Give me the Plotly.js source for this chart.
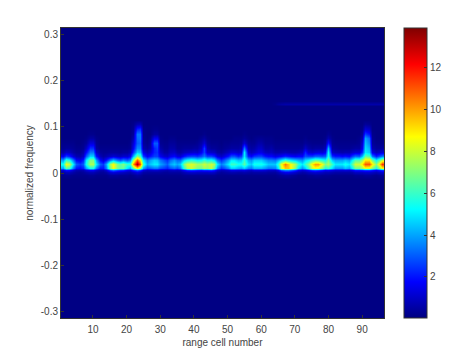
<!DOCTYPE html>
<html><head><meta charset="utf-8">
<script src="https://cdn.plot.ly/plotly-3.0.1.min.js"></script>
<style>html,body{margin:0;padding:0;background:#fff}#c{width:474px;height:355px}</style></head>
<body><div id="c"></div>
<script>
const rangeCells=[1,2,3,4,5,6,7,8,9,10,11,12,13,14,15,16,17,18,19,20,21,22,23,24,25,26,27,28,29,30,31,32,33,34,35,36,37,38,39,40,41,42,43,44,45,46,47,48,49,50,51,52,53,54,55,56,57,58,59,60,61,62,63,64,65,66,67,68,69,70,71,72,73,74,75,76,77,78,79,80,81,82,83,84,85,86,87,88,89,90,91,92,93,94,95,96];
const frequencies=[-0.313,-0.012,-0.004,0.002,0.0075,0.0115,0.02,0.029,0.037,0.046,0.055,0.065,0.075,0.085,0.095,0.105,0.115,0.145,0.15,0.155,0.313];
const rowBottom=[.1,.1,.1,.1,.1,.1,.1,.1,.1,.1,.1,.1,.1,.1,.1,.1,.1,.1,.1,.1,.1,.1,.1,.1,.1,.1,.1,.1,.1,.1,.1,.1,.1,.1,.1,.1,.1,.1,.1,.1,.1,.1,.1,.1,.1,.1,.1,.1,.1,.1,.1,.1,.1,.1,.1,.1,.1,.1,.1,.1,.1,.1,.1,.1,.1,.1,.1,.1,.1,.1,.1,.1,.1,.1,.1,.1,.1,.1,.1,.1,.1,.1,.1,.1,.1,.1,.1,.1,.1,.1,.1,.1,.1,.1,.1,.1];
const rowM004=[.2,.3,.3,.2,.2,.2,.2,.2,.3,.3,.2,.2,.2,.2,.4,.4,.4,.3,.3,.3,.2,.3,.5,.4,.2,.2,.2,.2,.2,.2,.2,.2,.2,.2,.2,.2,.3,.3,.3,.3,.3,.3,.3,.3,.3,.3,.2,.2,.2,.2,.2,.2,.2,.2,.2,.2,.2,.2,.2,.2,.2,.2,.2,.2,.3,.4,.5,.5,.4,.3,.2,.2,.2,.3,.3,.4,.4,.3,.3,.3,.2,.2,.2,.2,.2,.2,.2,.3,.3,.3,.4,.4,.3,.2,.3,.4];
const row002=[.6,.9,.9,.6,.4,.3,.4,.6,.8,.8,.6,.4,.4,.6,1.2,1.4,1.2,1.1,1,.8,.7,1,1.4,1.1,.6,.5,.5,.5,.5,.5,.4,.4,.5,.5,.5,.5,.8,1,1.1,1.1,1,1,1,1,1.1,1,.6,.4,.5,.6,.7,.7,.6,.6,.7,.6,.5,.6,.6,.6,.6,.5,.5,.5,.8,1.2,1.6,1.6,1.4,1.1,.8,.6,.7,.9,1.1,1.2,1.1,1,.8,.8,.7,.6,.6,.6,.6,.6,.7,1,1,1,1.1,1.1,1,.8,1,1.2];
const row007=[1.2,1.9,1.8,1.1,.7,.6,.7,1.2,1.6,1.6,1.1,.7,.7,1.2,2.6,3.2,2.6,2.3,2.2,1.6,1.4,2.2,3,2.4,1.3,.9,1,1.1,1.1,.9,.8,.7,.9,1,.9,1,1.7,2.2,2.4,2.3,2.1,2,2.2,2.2,2.4,2,1.2,.8,.9,1.1,1.4,1.4,1.3,1.3,1.4,1.1,1,1.3,1.3,1.3,1.2,1,1,1,1.6,2.8,3.4,3.4,3,2.4,1.6,1.2,1.4,1.8,2.4,2.6,2.4,2,1.6,1.7,1.4,1.2,1.2,1.2,1.3,1.2,1.5,2,2,2.1,2.4,2.4,2,1.6,2,2.4];
const row013=[4,6.5,6,3.5,2,1.8,2.2,4,5.5,5.5,3.5,2,2,3.5,7,8.5,7,6.5,6.5,5,4.2,6.5,9,7.5,4,2.8,3,3.4,3.4,2.8,2.5,2.2,2.8,3.2,2.8,3.4,6,7.5,8,7.5,7,6.8,7.4,7.2,7.8,6.5,3.8,2.4,2.8,3.6,4.6,4.6,4.2,4,4.6,3.6,3.4,4.2,4.2,4.2,3.8,3.4,3.4,3.6,5,8,9.5,9.5,8.5,7,5,3.8,4.6,6,8,8.5,8.2,7,5.6,6,4.8,3.8,3.8,3.8,4.4,4,5.2,6.8,6.8,7.4,8.4,8.2,7,5.6,7,8.5];
const row020=[5.5,8.5,8,5,3,2.5,3,5.5,7.5,7.5,5,3,2.5,4,7.5,8.8,7,6.5,7,6,6,10,13.5,11,6,4,4.5,5,5,4,3.5,3,4,4.5,4,4.5,7,8,8.2,8,7.5,7.5,8,7.5,8,7.5,5,3.5,4,5,6,6,5.5,5.5,6.5,5,4.5,5.5,5.5,5.5,5,4.5,4.5,4.5,6,8.5,10.5,9.5,8.5,7.5,6,5,6,7,9,10,10,8.5,7,7.5,6,5,5,5,5.5,5,6.5,8,8,9,11,11,9,7,9,11.5];
const row027=[4,6,5.5,3.5,1.8,1.5,2.2,5,7,7,4,1.8,1.2,2,3.6,4.5,3.5,3,3.6,3,3.6,7.5,11,9,5,3.4,4,4.6,4.4,3.4,2.8,2.4,3.2,3.8,3.2,3.2,4.8,5.4,5.8,5.6,5.2,5.4,6,5.4,5.6,5,3.4,2.4,3,4,5,5,4.4,4.6,6,4.2,3.8,4.6,4.6,4.6,4,3.6,3.6,3.4,4.2,5,6,5.4,5,4.6,4.2,3.8,4.8,5.2,6,6.6,6.4,5.8,5.4,6.8,4.6,4,4,4,4.4,4,5.2,6.4,6.4,7.4,9,9,7,5.2,6.4,8];
const row035=[1.6,2.6,2.2,1.2,.7,.6,1,3,4.6,4.6,2,.8,.5,.7,1,1.2,1,.9,1.1,1.1,1.6,4.2,7,6,2.6,1.6,2,2.6,2.6,1.6,1.1,1,1.5,1.8,1.3,1.2,2,2.4,2.6,2.6,2.4,2.8,3.4,2.6,2.6,2.2,1.3,1,1.4,2,2.8,2.8,2.2,2.6,5,2.2,1.8,2.4,2.6,2.6,2,1.8,1.8,1.4,1.6,1.8,2.2,2,1.8,1.6,1.8,1.8,2.8,2.6,2.6,3,3,2.8,3,5.6,2.4,2,2,1.8,2,1.8,2.6,3.2,3,4.4,6.6,6.2,3.4,2.2,2.8,3.4];
const row045=[.6,1,.9,.5,.3,.3,.6,1.8,3.4,3.4,1,.4,.3,.3,.4,.4,.4,.3,.4,.4,.7,2.4,4.6,4.4,1.4,.8,1.2,2.2,2.4,1,.5,.5,.9,1,.6,.5,.8,.9,1,1.1,1,1.6,2.6,1.2,1,.9,.5,.4,.6,.9,1.2,1.2,1,1.2,5,1.2,.8,1,1.4,1.4,.9,.8,.9,.6,.6,.7,.8,.7,.6,.6,.7,.9,2.2,1.2,1,1.2,1.3,1.2,1.6,5.2,1,.8,.7,.6,.7,.7,1,1.2,1.2,2.4,5,4.6,1.4,.8,1,1.2];
const row055=[.3,.4,.4,.3,.2,.2,.3,1,2.4,2.4,.5,.2,.2,.2,.2,.2,.2,.2,.2,.2,.3,1.6,3.6,3.6,.7,.4,.7,2.2,2.6,.6,.3,.3,.6,.6,.3,.3,.4,.4,.4,.5,.5,1,2.6,.7,.4,.4,.3,.2,.3,.4,.5,.5,.5,.7,3.4,.7,.5,.6,1,1,.5,.5,.6,.3,.3,.3,.3,.3,.3,.3,.3,.4,1,.6,.4,.5,.5,.5,.8,4.2,.5,.4,.3,.3,.3,.3,.4,.5,.5,1.6,4.8,4.2,.7,.4,.4,.5];
const row065=[.2,.2,.2,.2,.1,.1,.2,.4,1.3,1.3,.3,.1,.1,.1,.1,.1,.1,.1,.1,.1,.2,1.2,3,3.2,.4,.2,.5,3,3,.3,.2,.2,.4,.4,.2,.2,.2,.2,.2,.2,.3,.6,1.2,.4,.2,.2,.2,.1,.2,.2,.3,.3,.3,.4,1.2,.4,.3,.3,.6,.6,.3,.3,.3,.2,.2,.2,.2,.2,.2,.2,.2,.2,.4,.3,.2,.2,.2,.2,.4,2,.3,.2,.2,.2,.2,.2,.2,.2,.3,1.2,4.4,3.6,.4,.2,.2,.2];
const row075=[.1,.1,.1,.1,.1,.1,.1,.2,.5,.5,.2,.1,.1,.1,.1,.1,.1,.1,.1,.1,.1,.7,3.2,3.4,.3,.1,.3,1.6,1.6,.2,.1,.1,.2,.2,.1,.1,.1,.1,.1,.1,.1,.3,.5,.2,.1,.1,.1,.1,.1,.1,.1,.2,.2,.2,.4,.2,.1,.2,.3,.3,.2,.2,.2,.1,.1,.1,.1,.1,.1,.1,.1,.1,.2,.1,.1,.1,.1,.1,.2,.7,.2,.1,.1,.1,.1,.1,.1,.1,.2,.7,4,3.2,.3,.1,.1,.1];
const row085=[.1,.1,.1,.1,.1,.1,.1,.1,.2,.2,.1,.1,.1,.1,.1,.1,.1,.1,.1,.1,.1,.4,3.4,3.4,.2,.1,.1,.5,.5,.1,.1,.1,.1,.1,.1,.1,.1,.1,.1,.1,.1,.1,.2,.1,.1,.1,.1,.1,.1,.1,.1,.1,.1,.1,.2,.1,.1,.1,.1,.1,.1,.1,.1,.1,.1,.1,.1,.1,.1,.1,.1,.1,.1,.1,.1,.1,.1,.1,.1,.3,.1,.1,.1,.1,.1,.1,.1,.1,.1,.4,2.6,2,.2,.1,.1,.1];
const row095=[.1,.1,.1,.1,.1,.1,.1,.1,.1,.1,.1,.1,.1,.1,.1,.1,.1,.1,.1,.1,.1,.3,2.2,2.4,.2,.1,.1,.2,.2,.1,.1,.1,.1,.1,.1,.1,.1,.1,.1,.1,.1,.1,.1,.1,.1,.1,.1,.1,.1,.1,.1,.1,.1,.1,.1,.1,.1,.1,.1,.1,.1,.1,.1,.1,.1,.1,.1,.1,.1,.1,.1,.1,.1,.1,.1,.1,.1,.1,.1,.1,.1,.1,.1,.1,.1,.1,.1,.1,.1,.2,1.2,1,.1,.1,.1,.1];
const row105=[.1,.1,.1,.1,.1,.1,.1,.1,.1,.1,.1,.1,.1,.1,.1,.1,.1,.1,.1,.1,.1,.2,.7,.8,.1,.1,.1,.1,.1,.1,.1,.1,.1,.1,.1,.1,.1,.1,.1,.1,.1,.1,.1,.1,.1,.1,.1,.1,.1,.1,.1,.1,.1,.1,.1,.1,.1,.1,.1,.1,.1,.1,.1,.1,.1,.1,.1,.1,.1,.1,.1,.1,.1,.1,.1,.1,.1,.1,.1,.1,.1,.1,.1,.1,.1,.1,.1,.1,.1,.1,.4,.3,.1,.1,.1,.1];
const row150=[.1,.1,.1,.1,.1,.1,.1,.1,.1,.1,.1,.1,.1,.1,.1,.1,.1,.1,.1,.1,.1,.1,.1,.1,.1,.1,.1,.1,.1,.1,.1,.1,.1,.1,.1,.1,.1,.1,.1,.1,.1,.1,.1,.1,.1,.1,.1,.1,.1,.1,.1,.1,.1,.1,.1,.1,.1,.1,.1,.1,.1,.1,.1,.2,.4,.5,.6,.6,.6,.6,.6,.6,.6,.6,.6,.6,.6,.6,.6,.6,.6,.6,.6,.6,.6,.6,.6,.6,.6,.6,.6,.6,.6,.6,.6,.6];
const colorStops=[[0,'#000080'],[0.125,'#0000ff'],[0.375,'#00ffff'],[0.625,'#ffff00'],[0.875,'#ff0000'],[1,'#800000']];
const xTicks=[10,20,30,40,50,60,70,80,90];
const yTicks=[-0.3,-0.2,-0.1,0,0.1,0.2,0.3];
const yTickText=['-0.3','-0.2','-0.1','0','0.1','0.2','0.3'];
const barTicks=[2,4,6,8,10,12];

const z=[rowBottom,rowBottom,rowM004,row002,row007,row013,row020,row027,row035,row045,row055,row065,row075,row085,row095,row105,rowBottom,rowBottom,row150,rowBottom,rowBottom];
const txt={family:'"Liberation Sans",Arial,sans-serif',size:10,color:'#444'};
Plotly.newPlot('c',[{type:'heatmap',x:rangeCells,y:frequencies,z:z,zmin:0.04,zmax:13.9,zsmooth:'best',colorscale:colorStops,
 colorbar:{thickness:23,thicknessmode:'pixels',len:1,lenmode:'fraction',x:1.062,xanchor:'left',y:0.5,yanchor:'middle',xpad:0,ypad:0,
  tickvals:barTicks,ticks:'inside',ticklen:3,tickcolor:'#333',tickfont:txt,outlinecolor:'#333',outlinewidth:1}}],
 {width:474,height:355,margin:{l:61,r:90,t:28,b:37},paper_bgcolor:'#fff',plot_bgcolor:'#000080',font:txt,showlegend:false,
  xaxis:{range:[0.5,96.5],tickvals:xTicks,ticks:'inside',ticklen:3,tickcolor:'#333',ticklabelstandoff:2,showgrid:false,zeroline:false,showline:true,mirror:true,linecolor:'#333',linewidth:1,
   title:{text:'range cell number',font:txt,standoff:4}},
  yaxis:{range:[-0.313,0.313],tickvals:yTicks,ticktext:yTickText,ticks:'inside',ticklen:3,tickcolor:'#333',showgrid:false,zeroline:false,showline:true,mirror:true,linecolor:'#333',linewidth:1,
   title:{text:'normalized frequency',font:txt,standoff:5}}},
 {displayModeBar:false,staticPlot:true});
</script></body></html>
